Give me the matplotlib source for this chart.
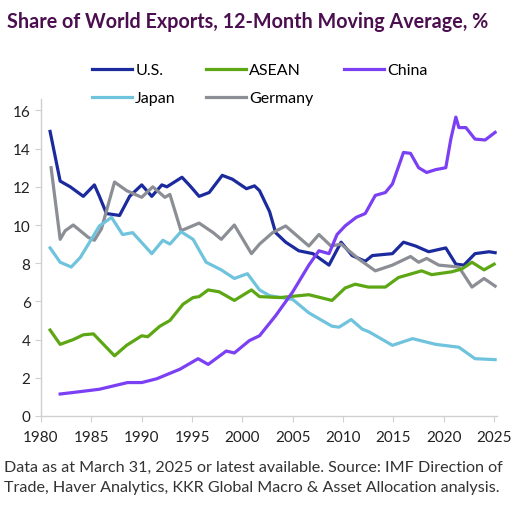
import matplotlib.pyplot as plt
import numpy as np

plt.rcParams['font.family'] = ['Lato', 'DejaVu Sans']

# Share of world exports (%)
us_years = [1980.9, 1981.9, 1982.9, 1984.2, 1985.3, 1985.8, 1986.5, 1987.8, 1988.8, 1990.0,
            1991.0, 1992.0, 1992.5, 1994.0, 1994.8, 1995.7, 1996.7, 1998.0, 1999.0, 2000.4,
            2001.2, 2001.7, 2002.7, 2003.3, 2004.3, 2005.6, 2007.0, 2008.6, 2009.8, 2010.9,
            2012.2, 2012.9, 2014.9, 2016.0, 2017.2, 2018.5, 2020.2, 2021.2, 2022.0, 2023.1,
            2024.5, 2025.1]
us_vals = [14.9, 12.3, 12.0, 11.5, 12.1, 11.5, 10.6, 10.5, 11.5, 12.1,
           11.5, 12.1, 12.0, 12.5, 12.05, 11.5, 11.7, 12.6, 12.4, 11.9,
           12.05, 11.8, 10.7, 9.6, 9.1, 8.65, 8.5, 7.9, 9.1, 8.4,
           8.1, 8.4, 8.5, 9.1, 8.9, 8.6, 8.8, 7.95, 7.9, 8.5,
           8.6, 8.55]

de_years = [1981.0, 1981.9, 1982.4, 1983.2, 1984.7, 1985.3, 1986.0, 1987.3, 1988.5, 1990.0,
            1991.1, 1992.3, 1992.8, 1993.9, 1995.7, 1997.1, 1997.9, 1999.2, 2000.9, 2001.7,
            2003.0, 2004.3, 2006.6, 2007.6, 2008.8, 2009.8, 2011.6, 2013.2, 2014.9, 2016.7,
            2017.5, 2018.3, 2019.5, 2021.5, 2022.8, 2024.0, 2025.1]
de_vals = [13.0, 9.25, 9.7, 10.0, 9.35, 9.2, 9.8, 12.25, 11.8, 11.45,
           12.0, 11.45, 11.6, 9.7, 10.1, 9.6, 9.25, 10.0, 8.5, 9.0,
           9.6, 9.95, 8.9, 9.5, 8.9, 9.0, 8.2, 7.6, 7.9, 8.35,
           8.05, 8.25, 7.9, 7.8, 6.75, 7.2, 6.8]

jp_years = [1980.9, 1981.9, 1983.0, 1983.9, 1985.8, 1987.0, 1988.1, 1989.1, 1991.0, 1992.1,
            1992.8, 1993.9, 1995.1, 1996.4, 1997.9, 1999.2, 2000.5, 2001.7, 2002.7, 2005.0,
            2006.6, 2008.9, 2009.6, 2010.8, 2011.9, 2012.6, 2014.9, 2016.9, 2019.2, 2021.5,
            2023.1, 2025.1]
jp_vals = [8.8, 8.05, 7.8, 8.3, 9.95, 10.4, 9.5, 9.6, 8.5, 9.2,
           9.0, 9.65, 9.25, 8.05, 7.65, 7.2, 7.45, 6.6, 6.3, 6.1,
           5.4, 4.7, 4.65, 5.05, 4.55, 4.4, 3.7, 4.05, 3.75, 3.6,
           3.0, 2.95]

asean_years = [1980.9, 1981.9, 1983.2, 1984.2, 1985.2, 1987.3, 1988.5, 1990.0, 1990.6, 1991.8,
               1992.8, 1994.1, 1995.1, 1995.7, 1996.6, 1997.7, 1999.2, 2000.9, 2001.7, 2003.7,
               2006.6, 2008.9, 2010.2, 2011.2, 2012.5, 2014.2, 2015.5, 2017.8, 2018.8, 2020.8,
               2021.8, 2022.8, 2024.0, 2025.0]
asean_vals = [4.5, 3.75, 4.0, 4.25, 4.3, 3.15, 3.7, 4.2, 4.15, 4.7,
              5.0, 5.85, 6.2, 6.25, 6.6, 6.5, 6.05, 6.6, 6.25, 6.2,
              6.35, 6.05, 6.7, 6.9, 6.75, 6.75, 7.25, 7.6, 7.4, 7.55,
              7.7, 8.05, 7.65, 7.95]

cn_years = [1981.9, 1983.5, 1985.8, 1988.6, 1990.0, 1991.5, 1993.8, 1995.6, 1996.6, 1998.4,
            1999.2, 2000.7, 2001.7, 2003.3, 2005.0, 2006.6, 2007.6, 2008.6, 2009.4, 2010.2,
            2011.3, 2012.2, 2013.2, 2014.2, 2014.9, 2016.0, 2016.7, 2017.5, 2018.3, 2019.2,
            2020.2, 2020.7, 2021.2, 2021.5, 2022.2, 2023.1, 2024.1, 2025.1]
cn_vals = [1.15, 1.25, 1.4, 1.75, 1.75, 1.95, 2.45, 3.0, 2.7, 3.4,
           3.3, 3.95, 4.2, 5.25, 6.5, 7.9, 8.65, 8.5, 9.5, 9.95,
           10.4, 10.6, 11.55, 11.7, 12.15, 13.8, 13.75, 13.0, 12.75, 12.9,
           13.0, 14.5, 15.65, 15.1, 15.1, 14.5, 14.45, 14.85]

xticks = [1980, 1985, 1990, 1995, 2000, 2005, 2010, 2015, 2020, 2025]
yticks = [0, 2, 4, 6, 8, 10, 12, 14, 16]

fig = plt.figure(figsize=(5.3, 5.1), dpi=100)
ax = fig.add_axes([0.0774, 0.1824, 0.8606, 0.6216])

lw = 2.3
l_us, = ax.plot(us_years, us_vals, color='#1b2a9c', lw=lw, label='U.S.')
l_de, = ax.plot(de_years, de_vals, color='#8b8e94', lw=lw, label='Germany')
l_jp, = ax.plot(jp_years, jp_vals, color='#6fc3dd', lw=lw, label='Japan')
l_as, = ax.plot(asean_years, asean_vals, color='#5ca713', lw=lw, label='ASEAN')
l_cn, = ax.plot(cn_years, cn_vals, color='#7b3ff4', lw=lw, label='China')

ax.set_xlim(1980, 2025.3)
ax.set_ylim(0, 16.6)
ax.set_xticks(xticks)
ax.set_yticks(yticks)

for s in ['top', 'right']:
    ax.spines[s].set_visible(False)
for s in ['left', 'bottom']:
    ax.spines[s].set_color('#d0d0d0')
    ax.spines[s].set_linewidth(1.0)
ax.tick_params(axis='both', colors='#d0d0d0', labelcolor='#222222', labelsize=11, length=4)
ax.tick_params(axis='x', pad=6)

# Legend: column-major fill so rows read U.S./ASEAN/China, Japan/Germany
fig.legend([l_us, l_jp, l_as, l_de, l_cn], ['U.S.', 'Japan', 'ASEAN', 'Germany', 'China'],
           ncol=3, frameon=False, loc='center', bbox_to_anchor=(0.49, 0.833),
           fontsize=11.5, handlelength=2.5, handletextpad=0.2, columnspacing=1.9,
           labelspacing=0.85)

fig.text(0.013, 0.956, 'Share of World Exports, 12-Month Moving Average, %',
         fontsize=14.2, fontweight='bold', color='#4b0f4f', va='center')
fig.text(0.008, 0.062, 'Data as at March 31, 2025 or latest available. Source: IMF Direction of\n'
         'Trade, Haver Analytics, KKR Global Macro & Asset Allocation analysis.',
         fontsize=11.6, color='#333333', va='center', linespacing=1.55)

fig.savefig('out.png', dpi=100)
